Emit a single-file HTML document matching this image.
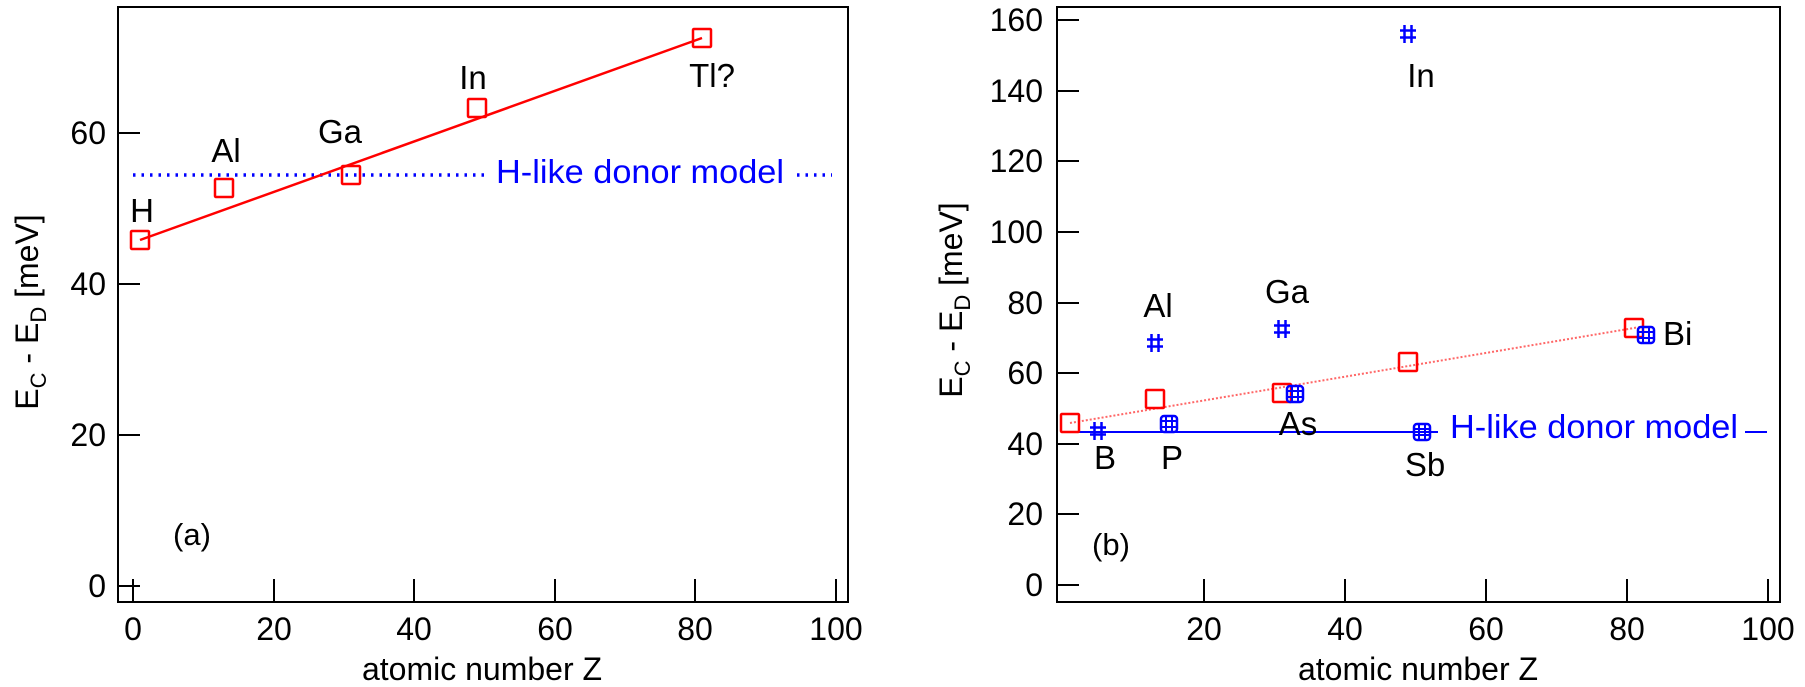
<!DOCTYPE html>
<html><head><meta charset="utf-8"><style>
html,body{margin:0;padding:0;background:#fff;}
svg{display:block;}
text{font-family:"Liberation Sans",sans-serif;}
</style></head><body>
<svg width="1805" height="687" viewBox="0 0 1805 687" xmlns="http://www.w3.org/2000/svg">
<defs>
<g id="hs"><path d="M-3.5,-9V9M3.5,-9V9M-8,-3.5H8M-8,3.5H8" stroke="#00f" stroke-width="2.5" fill="none"/></g>
<g id="hb"><rect x="-8" y="-8" width="16" height="16" rx="3" stroke="#00f" stroke-width="2.5" fill="none"/><path d="M-3,-8V8M3,-8V8M-8,-3H8M-8,3H8" stroke="#00f" stroke-width="2" fill="none"/></g>
<rect id="rs" x="-9" y="-9" width="18" height="18" rx="1" stroke="#f00" stroke-width="2.5" fill="none"/>
</defs>

<!-- Panel a -->
<rect x="118" y="7" width="730" height="595" fill="none" stroke="#000" stroke-width="2"/>
<g stroke="#000" stroke-width="2">
<path d="M133,602V579M274,602V579M414,602V579M555,602V579M695,602V579M836,602V579"/>
<path d="M118,586H140M118,435H140M118,284H140M118,133H140"/>
</g>
<g font-size="32" text-anchor="middle" fill="#000">
<text x="133" y="640">0</text><text x="274" y="640">20</text><text x="414" y="640">40</text>
<text x="555" y="640">60</text><text x="695" y="640">80</text><text x="836" y="640">100</text>
<text x="482" y="680">atomic number Z</text>
</g>
<g font-size="32" text-anchor="end" fill="#000">
<text x="106" y="597">0</text><text x="106" y="446">20</text><text x="106" y="295">40</text><text x="106" y="144">60</text>
</g>
<text transform="translate(38,312) rotate(-90)" font-size="32" text-anchor="middle" fill="#000">E<tspan font-size="22" dy="8">C</tspan><tspan dy="-8"> - E</tspan><tspan font-size="22" dy="8">D</tspan><tspan dy="-8"> [meV]</tspan></text>
<path d="M133,175H490" stroke="#00f" stroke-width="3.5" stroke-dasharray="2.5,6" fill="none"/>
<text x="496" y="183" font-size="33" fill="#00f" textLength="288" lengthAdjust="spacingAndGlyphs">H-like donor model</text>
<path d="M797,175H832" stroke="#00f" stroke-width="3.5" stroke-dasharray="2.5,6" fill="none"/>
<path d="M140,240L702,38" stroke="#f00" stroke-width="2.5"/>
<use href="#rs" x="140" y="240"/><use href="#rs" x="224" y="188"/><use href="#rs" x="351" y="175"/><use href="#rs" x="477" y="108"/><use href="#rs" x="702" y="38"/>
<g font-size="33" text-anchor="middle" fill="#000">
<text x="142" y="222">H</text><text x="226" y="162">Al</text><text x="340" y="143">Ga</text><text x="473" y="89">In</text><text x="712" y="87">Tl?</text>
</g>
<text x="192" y="545" font-size="31" text-anchor="middle" fill="#000">(a)</text>

<!-- Panel b -->
<rect x="1057" y="7" width="723" height="595" fill="none" stroke="#000" stroke-width="2"/>
<g stroke="#000" stroke-width="2">
<path d="M1204,602V579M1345,602V579M1486,602V579M1627,602V579M1768,602V579"/>
<path d="M1057,585H1079M1057,514H1079M1057,444H1079M1057,373H1079M1057,303H1079M1057,232H1079M1057,161H1079M1057,91H1079M1057,20H1079"/>
</g>
<g font-size="32" text-anchor="middle" fill="#000">
<text x="1204" y="640">20</text><text x="1345" y="640">40</text><text x="1486" y="640">60</text><text x="1627" y="640">80</text><text x="1768" y="640">100</text>
<text x="1418" y="680">atomic number Z</text>
</g>
<g font-size="32" text-anchor="end" fill="#000">
<text x="1043" y="596">0</text><text x="1043" y="525">20</text><text x="1043" y="455">40</text><text x="1043" y="384">60</text><text x="1043" y="314">80</text><text x="1043" y="243">100</text><text x="1043" y="172">120</text><text x="1043" y="102">140</text><text x="1043" y="31">160</text>
</g>
<text transform="translate(962,300) rotate(-90)" font-size="32" text-anchor="middle" fill="#000">E<tspan font-size="22" dy="8">C</tspan><tspan dy="-8"> - E</tspan><tspan font-size="22" dy="8">D</tspan><tspan dy="-8"> [meV]</tspan></text>
<path d="M1070,423L1640,327" stroke="#f66" stroke-width="2" stroke-dasharray="2,2" fill="none"/>
<path d="M1070,432H1438" stroke="#00f" stroke-width="2"/>
<text x="1450" y="438" font-size="33" fill="#00f" textLength="288" lengthAdjust="spacingAndGlyphs">H-like donor model</text>
<path d="M1745,432H1767" stroke="#00f" stroke-width="2"/>
<use href="#rs" x="1070" y="423"/><use href="#rs" x="1155" y="399"/><use href="#rs" x="1282" y="393"/><use href="#rs" x="1408" y="362"/><use href="#rs" x="1634" y="328"/>
<use href="#hs" x="1155" y="343"/><use href="#hs" x="1282" y="329"/><use href="#hs" x="1408" y="34"/><use href="#hs" x="1098" y="431"/>
<use href="#hb" x="1169" y="424"/><use href="#hb" x="1295" y="394"/><use href="#hb" x="1422" y="432"/><use href="#hb" x="1646" y="335"/>
<g font-size="33" text-anchor="middle" fill="#000">
<text x="1158" y="317">Al</text><text x="1287" y="303">Ga</text><text x="1421" y="87">In</text><text x="1298" y="435">As</text>
<text x="1105" y="469">B</text><text x="1172" y="469">P</text><text x="1425" y="476">Sb</text>
</g>
<text x="1663" y="345" font-size="33" fill="#000">Bi</text>
<text x="1111" y="555" font-size="31" text-anchor="middle" fill="#000">(b)</text>
</svg>
</body></html>
